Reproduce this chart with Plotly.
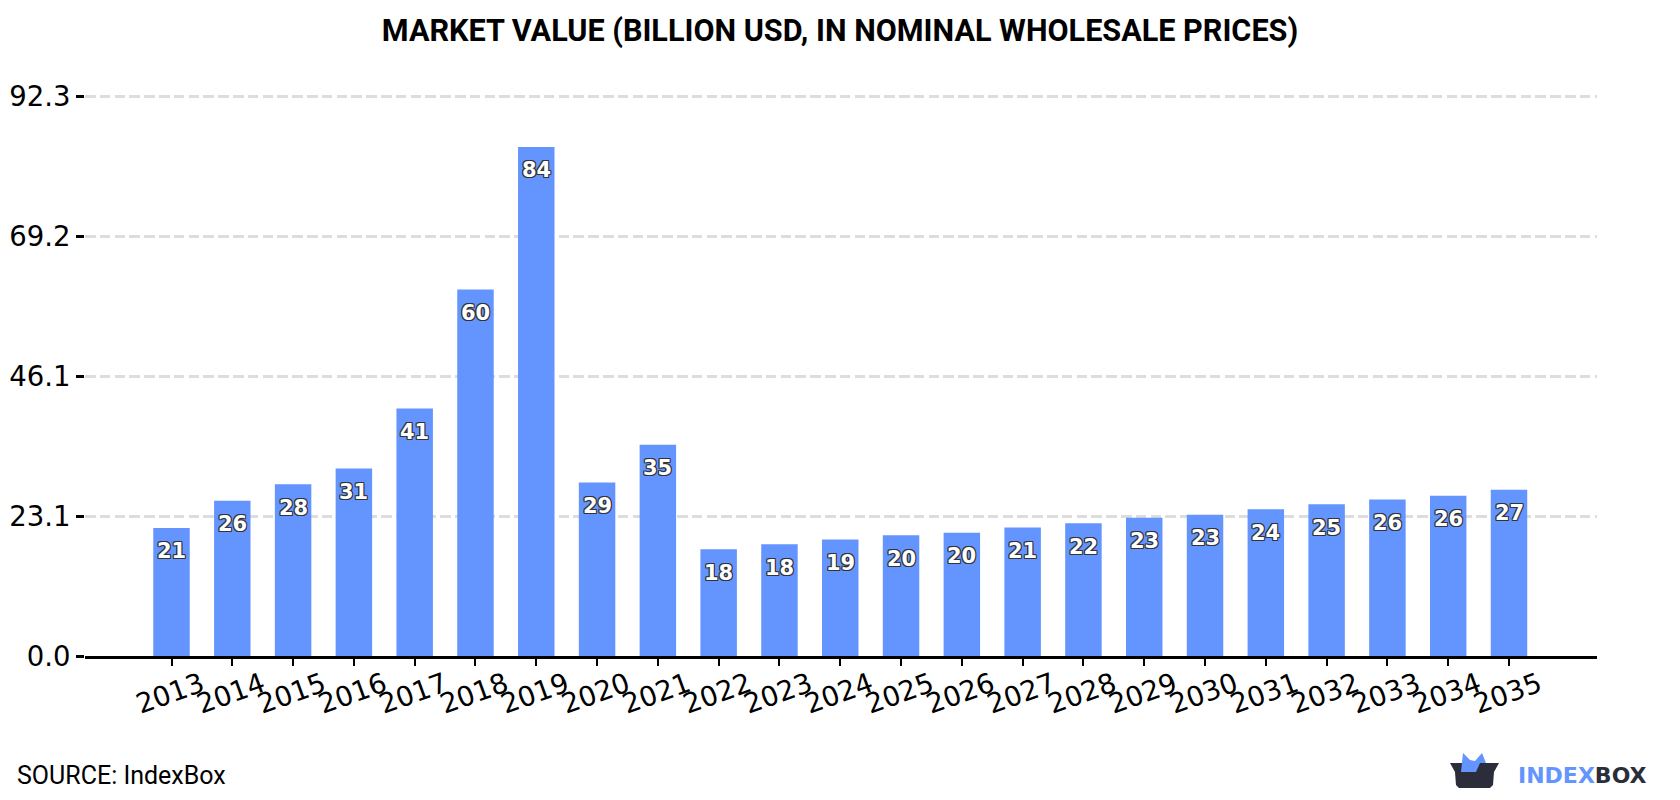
import plotly.graph_objects as go

# Market value series, billion USD
years = [str(y) for y in [2013, 2014, 2015, 2016, 2017, 2018, 2019, 2020, 2021, 2022, 2023, 2024,
                          2025, 2026, 2027, 2028, 2029, 2030, 2031, 2032, 2033, 2034, 2035]]
values = [21.1, 25.6, 28.3, 30.9, 40.8, 60.4, 83.9, 28.6, 34.8, 17.6, 18.4, 19.2,
          19.9, 20.3, 21.2, 21.9, 22.8, 23.3, 24.2, 25.0, 25.8, 26.4, 27.4]
y_ticks = [0.0, 23.1, 46.1, 69.2, 92.3]
y_tick_positions = [0.0, 23.075, 46.15, 69.225, 92.3]

title_text = "MARKET VALUE (BILLION USD, IN NOMINAL WHOLESALE PRICES)"
source_text = "SOURCE: IndexBox"

BLUE = "#6495ff"
DARK = "#2b2d3a"
OUTLINE = "#333333"
HALO = ", ".join(f"{dx}px {dy}px 0 {OUTLINE}" for dx, dy in
                 [(1, 1), (-1, -1), (1, -1), (-1, 1), (1, 0), (-1, 0), (0, 1), (0, -1)])

# Plot area edges in page pixels; the top edge leaves room for the 92.3 gridline
LEFT, RIGHT, TOP, BOTTOM = 85, 1597, 93, 656
UNIT_PX = (656 - 96) / 92.3
BAND_PX = (1509 - 171.5) / 22


def page_x(px):
    return (px - LEFT) / (RIGHT - LEFT)


def page_y(px):
    return (BOTTOM - px) / (BOTTOM - TOP)


fig = go.Figure(go.Bar(x=years, y=values, marker=dict(color=BLUE, line=dict(width=0)),
                       hoverinfo="x+y", showlegend=False))

# Value labels sit just under the top edge of each bar
annotations = [
    dict(x=i, y=v, xref="x", yref="y", text=f"{v:.0f}", showarrow=False,
         yanchor="middle", xanchor="center", yshift=-23.5,
         font=dict(family="DejaVu Sans", size=21, color="white", weight="bold", shadow=HALO))
    for i, v in enumerate(values)
]
annotations.append(dict(x=page_x(15), y=page_y(775), xref="paper", yref="paper",
                        xanchor="left", yanchor="middle", showarrow=False,
                        text=source_text, font=dict(family="Roboto", size=25, color="black")))

# Wordmark in the lower right corner
annotations.append(dict(x=page_x(1516), y=page_y(775), xref="paper", yref="paper",
                        xanchor="left", yanchor="middle", showarrow=False,
                        text=f'<span style="color:{BLUE}">INDEX</span><span style="color:{DARK}">BOX</span>',
                        font=dict(family="DejaVu Sans", size=22, weight="bold")))


def logo_path(points):
    return "M" + " L".join(f"{page_x(x):.5f},{page_y(y):.5f}" for x, y in points) + " Z"


shapes = [
    dict(type="path", xref="paper", yref="paper", line=dict(width=0), fillcolor=DARK,
         path=logo_path([(1450, 763), (1499, 763), (1494, 772), (1493, 785), (1490, 788),
                         (1459, 788), (1456, 785), (1455, 772)])),
    dict(type="path", xref="paper", yref="paper", line=dict(width=0), fillcolor=BLUE,
         path=logo_path([(1461, 772), (1463, 753), (1470, 760), (1475, 761), (1482, 753),
                         (1486, 763), (1480, 763), (1476, 772)])),
]

fig.update_layout(
    width=1680, height=800, autosize=False,
    margin=dict(l=LEFT, r=1680 - RIGHT, t=TOP, b=800 - BOTTOM, pad=0, autoexpand=False),
    paper_bgcolor="white", plot_bgcolor="white",
    bargap=0.4, showlegend=False,
    title=dict(text=title_text, x=840 / 1680, xref="container", xanchor="center",
               y=1 - 30 / 800, yref="container", yanchor="middle",
               font=dict(family="Roboto", size=30.6, color="black", weight="bold")),
    annotations=annotations, shapes=shapes,
    xaxis=dict(type="category", categoryorder="array", categoryarray=years,
               range=[(LEFT - 171.5) / BAND_PX, 22 + (RIGHT - 1509) / BAND_PX],
               tickmode="array", tickvals=years, ticktext=years, automargin=False,
               tickangle=-20, ticklabelshift=30, ticklabelstandoff=-8,
               ticks="outside", ticklen=7, tickwidth=2, tickcolor="black",
               showline=True, linecolor="black", linewidth=3, showgrid=False, zeroline=False,
               tickfont=dict(family="DejaVu Sans", size=27.5, color="black")),
    yaxis=dict(range=[0, (BOTTOM - TOP) / UNIT_PX], tickmode="array", tickvals=y_tick_positions,
               ticktext=[f"{t:.1f}" for t in y_ticks], automargin=False,
               ticks="outside", ticklen=8, tickwidth=3, tickcolor="black",
               showline=False, zeroline=False,
               showgrid=True, gridcolor="#dddddd", gridwidth=2.5, griddash="10.5px,4.3px",
               tickfont=dict(family="DejaVu Sans", size=27.5, color="black")),
)

fig.write_html("out.html")
